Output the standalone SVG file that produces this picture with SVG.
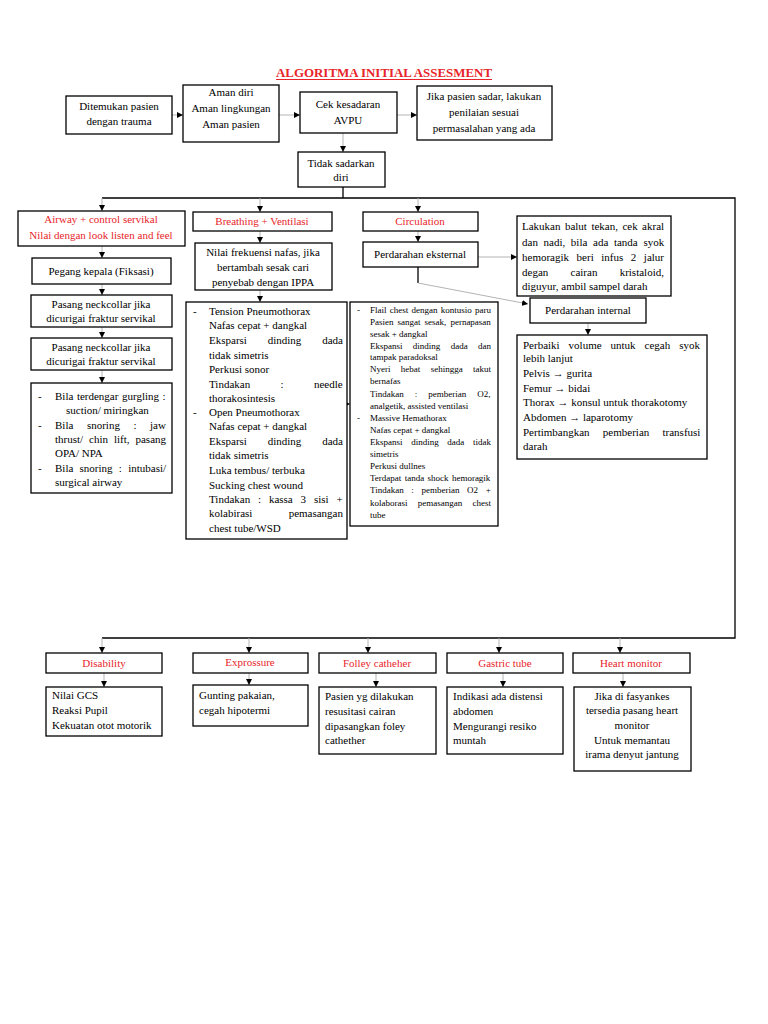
<svg xmlns="http://www.w3.org/2000/svg" width="768" height="1024" viewBox="0 0 768 1024">
<style>
.box{fill:#fff;stroke:#000;stroke-width:1.3}
.t{font-family:"Liberation Serif",serif;font-size:11px;fill:#000}
.c{text-anchor:middle}
.r{fill:#e8242a}
.s{font-size:9px}
.ln{stroke:#000;stroke-width:1.3;fill:none}
.ar{stroke:#b4b4b4;stroke-width:1;fill:none;marker-end:url(#ah)}
.ttl{font-family:"Liberation Serif",serif;font-size:12.5px;font-weight:bold;fill:#e8242a}
</style>
<defs>
<marker id="ah" markerUnits="userSpaceOnUse" markerWidth="6" markerHeight="6" refX="6" refY="3" orient="auto">
<path d="M0,0 L6,3 L0,6 z" fill="#000"/>
</marker>
</defs>
<rect width="768" height="1024" fill="#fff"/>
<text class="ttl c" x="384" y="77" textLength="216" lengthAdjust="spacingAndGlyphs">ALGORITMA INITIAL ASSESMENT</text>
<line x1="276" y1="79.5" x2="492" y2="79.5" stroke="#e8242a" stroke-width="1"/>

<g id="connectors">
<line class="ar" x1="172" y1="115" x2="183" y2="115"/>
<line class="ar" x1="279" y1="115" x2="300" y2="115"/>
<line class="ar" x1="397" y1="115" x2="417" y2="115"/>
<line class="ar" x1="343" y1="133" x2="343" y2="152"/>
<polyline class="ln" points="343,187 343,198"/>
<polyline class="ln" points="102,198 735,198 735,638 102,638"/>
<line class="ar" x1="102" y1="198" x2="102" y2="211"/>
<line class="ar" x1="260" y1="198" x2="260" y2="212"/>
<line class="ar" x1="418" y1="198" x2="418" y2="212"/>
<line class="ar" x1="102" y1="246" x2="102" y2="258"/>
<line class="ar" x1="102" y1="284" x2="102" y2="295"/>
<line class="ar" x1="102" y1="327" x2="102" y2="338"/>
<line class="ar" x1="102" y1="370" x2="102" y2="383"/>
<line class="ar" x1="260" y1="231" x2="260" y2="243"/>
<line class="ar" x1="260" y1="290" x2="260" y2="302"/>
<line class="ar" x1="343" y1="404" x2="350" y2="404"/>
<line class="ar" x1="418" y1="231" x2="418" y2="242"/>
<line class="ar" x1="478" y1="257" x2="517" y2="257"/>
<polyline class="ln" points="418,267 418,283"/>
<line class="ar" x1="418" y1="283" x2="528" y2="304"/>
<line class="ar" x1="588" y1="323" x2="588" y2="335"/>
<line class="ar" x1="102" y1="638" x2="102" y2="653"/>
<line class="ar" x1="249" y1="638" x2="249" y2="653"/>
<line class="ar" x1="368" y1="638" x2="368" y2="653"/>
<line class="ar" x1="499" y1="638" x2="499" y2="653"/>
<line class="ar" x1="620" y1="638" x2="620" y2="653"/>
<line class="ar" x1="104" y1="673" x2="104" y2="687"/>
<line class="ar" x1="249" y1="673" x2="249" y2="685"/>
<line class="ar" x1="376" y1="673" x2="376" y2="687"/>
<line class="ar" x1="503" y1="673" x2="503" y2="687"/>
<line class="ar" x1="623" y1="673" x2="623" y2="687"/>
</g>

<g id="ditemukan">
<rect class="box" x="66" y="96" width="106" height="38"/>
<text class="t c" x="119" y="110">Ditemukan pasien</text>
<text class="t c" x="119" y="125">dengan trauma</text>
</g>
<g id="aman">
<rect class="box" x="183" y="85" width="96" height="57"/>
<text class="t c" x="231" y="96">Aman diri</text>
<text class="t c" x="231" y="112">Aman lingkungan</text>
<text class="t c" x="231" y="128">Aman pasien</text>
</g>
<g id="cek">
<rect class="box" x="300" y="92" width="97" height="41"/>
<text class="t c" x="348" y="108">Cek kesadaran</text>
<text class="t c" x="348" y="124">AVPU</text>
</g>
<g id="jika">
<rect class="box" x="417" y="86" width="135" height="54"/>
<text class="t c" x="484" y="100">Jika pasien sadar, lakukan</text>
<text class="t c" x="484" y="116">penilaian sesuai</text>
<text class="t c" x="484" y="132">permasalahan yang ada</text>
</g>
<g id="tidak">
<rect class="box" x="298" y="152" width="87" height="35"/>
<text class="t c" x="341" y="167">Tidak sadarkan</text>
<text class="t c" x="341" y="181">diri</text>
</g>

<g id="airway">
<rect class="box" x="18" y="211" width="167" height="35"/>
<text class="t c r" x="101" y="223">Airway + control servikal</text>
<text class="t c r" x="101" y="239">Nilai dengan look listen and feel</text>
</g>
<g id="pegang">
<rect class="box" x="32" y="258" width="139" height="26"/>
<text class="t c" x="101" y="275">Pegang kepala (Fiksasi)</text>
</g>
<g id="neck1">
<rect class="box" x="31" y="295" width="141" height="32"/>
<text class="t c" x="101" y="308">Pasang neckcollar jika</text>
<text class="t c" x="101" y="322">dicurigai fraktur servikal</text>
</g>
<g id="neck2">
<rect class="box" x="31" y="338" width="141" height="32"/>
<text class="t c" x="101" y="351">Pasang neckcollar jika</text>
<text class="t c" x="101" y="365">dicurigai fraktur servikal</text>
</g>
<g id="airway-list">
<rect class="box" x="31" y="383" width="141" height="110"/>
<text class="t" x="38" y="400">-</text>
<text class="t" x="55" y="400" style="word-spacing:0.8px">Bila terdengar gurgling :</text>
<text class="t" x="66" y="414">suction/ miringkan</text>
<text class="t" x="38" y="429">-</text>
<text class="t" x="55" y="429" style="word-spacing:10.8px">Bila snoring : jaw</text>
<text class="t" x="55" y="443" style="word-spacing:3.2px">thrust/ chin lift, pasang</text>
<text class="t" x="55" y="457">OPA/ NPA</text>
<text class="t" x="38" y="472">-</text>
<text class="t" x="55" y="472" style="word-spacing:3.5px">Bila snoring : intubasi/</text>
<text class="t" x="55" y="486">surgical airway</text>
</g>

<g id="breathing">
<rect class="box" x="193" y="212" width="139" height="19"/>
<text class="t c r" x="262" y="225">Breathing + Ventilasi</text>
</g>
<g id="nilai-frekuensi">
<rect class="box" x="195" y="243" width="137" height="47"/>
<text class="t c" x="263" y="256">Nilai frekuensi nafas, jika</text>
<text class="t c" x="263" y="271">bertambah sesak cari</text>
<text class="t c" x="263" y="286">penyebab dengan IPPA</text>
</g>
<g id="pneumothorax">
<rect class="box" x="186" y="302" width="161" height="237"/>
<text class="t" x="193" y="315">-</text>
<text class="t" x="209" y="315">Tension Pneumothorax</text>
<text class="t" x="209" y="329">Nafas cepat + dangkal</text>
<text class="t" x="209" y="344" style="word-spacing:18.1px">Eksparsi dinding dada</text>
<text class="t" x="209" y="359">tidak simetris</text>
<text class="t" x="209" y="373">Perkusi sonor</text>
<text class="t" x="209" y="388" style="word-spacing:27.6px">Tindakan : needle</text>
<text class="t" x="209" y="402">thorakosintesis</text>
<text class="t" x="193" y="416">-</text>
<text class="t" x="209" y="416">Open Pneumothorax</text>
<text class="t" x="209" y="430">Nafas cepat + dangkal</text>
<text class="t" x="209" y="445" style="word-spacing:18.1px">Eksparsi dinding dada</text>
<text class="t" x="209" y="459">tidak simetris</text>
<text class="t" x="209" y="474">Luka tembus/ terbuka</text>
<text class="t" x="209" y="489">Sucking chest wound</text>
<text class="t" x="209" y="503" style="word-spacing:5.1px">Tindakan : kassa 3 sisi +</text>
<text class="t" x="209" y="517" style="word-spacing:33.5px">kolabirasi pemasangan</text>
<text class="t" x="209" y="532">chest tube/WSD</text>
</g>
<g id="flail">
<rect class="box" x="350" y="302" width="148" height="224"/>
<text class="t s" x="357" y="313">-</text>
<text class="t s" x="370" y="313" style="word-spacing:1px">Flail chest dengan kontusio paru</text>
<text class="t s" x="370" y="325" style="word-spacing:1.8px">Pasien sangat sesak, pernapasan</text>
<text class="t s" x="370" y="337">sesak + dangkal</text>
<text class="t s" x="370" y="349" style="word-spacing:8.1px">Ekspansi dinding dada dan</text>
<text class="t s" x="370" y="360">tampak paradoksal</text>
<text class="t s" x="370" y="372" style="word-spacing:8.1px">Nyeri hebat sehingga takut</text>
<text class="t s" x="370" y="384">bernafas</text>
<text class="t s" x="370" y="397" style="word-spacing:8.8px">Tindakan : pemberian O2,</text>
<text class="t s" x="370" y="409">analgetik, assisted ventilasi</text>
<text class="t s" x="357" y="421">-</text>
<text class="t s" x="370" y="421">Massive Hemathorax</text>
<text class="t s" x="370" y="433">Nafas cepat + dangkal</text>
<text class="t s" x="370" y="445" style="word-spacing:6.4px">Ekspansi dinding dada tidak</text>
<text class="t s" x="370" y="457">simetris</text>
<text class="t s" x="370" y="469">Perkusi dullnes</text>
<text class="t s" x="370" y="481" style="word-spacing:1.1px">Terdapat tanda shock hemoragik</text>
<text class="t s" x="370" y="493" style="word-spacing:5.4px">Tindakan : pemberian O2 +</text>
<text class="t s" x="370" y="506" style="word-spacing:8px">kolaborasi pemasangan chest</text>
<text class="t s" x="370" y="518">tube</text>
</g>

<g id="circulation">
<rect class="box" x="363" y="212" width="115" height="19"/>
<text class="t c r" x="420" y="225">Circulation</text>
</g>
<g id="perdarahan-eksternal">
<rect class="box" x="363" y="242" width="115" height="25"/>
<text class="t c" x="420" y="258">Perdarahan eksternal</text>
</g>
<g id="lakukan">
<rect class="box" x="517" y="216" width="154" height="80"/>
<text class="t" x="522" y="230" style="word-spacing:1.7px">Lakukan balut tekan, cek akral</text>
<text class="t" x="522" y="246" style="word-spacing:2.9px">dan nadi, bila ada tanda syok</text>
<text class="t" x="522" y="261" style="word-spacing:4.8px">hemoragik beri infus 2 jalur</text>
<text class="t" x="522" y="276" style="word-spacing:19.5px">degan cairan kristaloid,</text>
<text class="t" x="522" y="290">diguyur, ambil sampel darah</text>
</g>
<g id="perdarahan-internal">
<rect class="box" x="530" y="298" width="116" height="25"/>
<text class="t c" x="588" y="314">Perdarahan internal</text>
</g>
<g id="perbaiki">
<rect class="box" x="517" y="335" width="190" height="124"/>
<text class="t" x="523" y="349" style="word-spacing:6.2px">Perbaiki volume untuk cegah syok</text>
<text class="t" x="523" y="362">lebih lanjut</text>
<text class="t" x="523" y="377">Pelvis → gurita</text>
<text class="t" x="523" y="392">Femur → bidai</text>
<text class="t" x="523" y="406">Thorax → konsul untuk thorakotomy</text>
<text class="t" x="523" y="421">Abdomen → laparotomy</text>
<text class="t" x="523" y="436" style="word-spacing:10.5px">Pertimbangkan pemberian transfusi</text>
<text class="t" x="523" y="450">darah</text>
</g>

<g id="disability">
<rect class="box" x="46" y="653" width="116" height="20"/>
<text class="t c r" x="104" y="667">Disability</text>
</g>
<g id="disability-content">
<rect class="box" x="46" y="687" width="116" height="49"/>
<text class="t" x="52" y="699">Nilai GCS</text>
<text class="t" x="52" y="714">Reaksi Pupil</text>
<text class="t" x="52" y="729">Kekuatan otot motorik</text>
</g>
<g id="exprossure">
<rect class="box" x="193" y="653" width="115" height="20"/>
<text class="t c r" x="250" y="666">Exprossure</text>
</g>
<g id="exprossure-content">
<rect class="box" x="193" y="685" width="115" height="41"/>
<text class="t" x="199" y="699">Gunting pakaian,</text>
<text class="t" x="199" y="714">cegah hipotermi</text>
</g>
<g id="folley">
<rect class="box" x="319" y="653" width="117" height="20"/>
<text class="t c r" x="377" y="667">Folley catheher</text>
</g>
<g id="folley-content">
<rect class="box" x="319" y="687" width="117" height="67"/>
<text class="t" x="325" y="700">Pasien yg dilakukan</text>
<text class="t" x="325" y="715">resusitasi cairan</text>
<text class="t" x="325" y="730">dipasangkan foley</text>
<text class="t" x="325" y="744">cathether</text>
</g>
<g id="gastric">
<rect class="box" x="447" y="653" width="116" height="20"/>
<text class="t c r" x="505" y="667">Gastric tube</text>
</g>
<g id="gastric-content">
<rect class="box" x="447" y="687" width="116" height="67"/>
<text class="t" x="453" y="700">Indikasi ada distensi</text>
<text class="t" x="453" y="715">abdomen</text>
<text class="t" x="453" y="730">Mengurangi resiko</text>
<text class="t" x="453" y="744">muntah</text>
</g>
<g id="heart">
<rect class="box" x="573" y="653" width="117" height="20"/>
<text class="t c r" x="631" y="667">Heart monitor</text>
</g>
<g id="heart-content">
<rect class="box" x="574" y="687" width="117" height="84"/>
<text class="t c" x="632" y="700">Jika di fasyankes</text>
<text class="t c" x="632" y="714">tersedia pasang heart</text>
<text class="t c" x="632" y="729">monitor</text>
<text class="t c" x="632" y="744">Untuk memantau</text>
<text class="t c" x="632" y="758">irama denyut jantung</text>
</g>
</svg>
